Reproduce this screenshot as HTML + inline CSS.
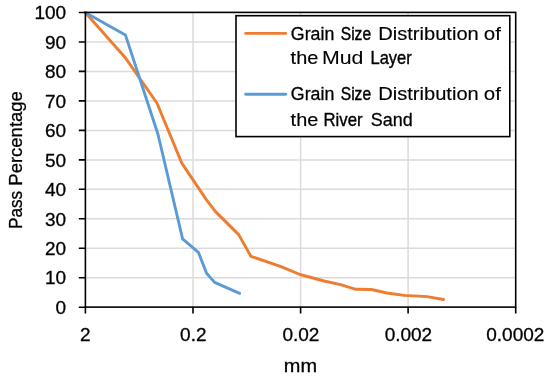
<!DOCTYPE html>
<html><head><meta charset="utf-8">
<style>
html,body{margin:0;padding:0;background:#fff;}
body{width:550px;height:382px;overflow:hidden;}
svg{display:block;}
text{font-family:"Liberation Sans",sans-serif;fill:#000;stroke:#000;stroke-width:0.3px;}
</style></head><body>
<svg width="550" height="382" viewBox="0 0 550 382">
<rect width="550" height="382" fill="#fff"/>
<!-- gridlines -->
<g stroke="#dbdbdb" stroke-width="1.5" fill="none">
<path d="M85.3 42H515.4M85.3 71.4H515.4M85.3 100.9H515.4M85.3 130.4H515.4M85.3 159.9H515.4M85.3 189.3H515.4M85.3 218.8H515.4M85.3 248.3H515.4M85.3 277.7H515.4"/>
<path d="M193 12.5V307.2M300.6 12.5V307.2M408.1 12.5V307.2"/>
</g>
<!-- data -->
<g fill="none" stroke-width="2.9" stroke-linejoin="round" stroke-linecap="round">
<polyline stroke="#ed7d31" points="85.3,12.5 124.9,57.2 156.9,103 181.8,163.1 206.3,199.6 215.5,211.6 238.7,234.6 250.9,256.3 280.4,266.4 300,274.5 324,281 340.6,284.6 356,289.3 371.5,289.5 386.7,293 404.2,295.4 427.1,296.6 443.5,299.5"/>
<polyline stroke="#5b9bd5" points="85.3,12.5 125.4,34.9 157.9,134 182.6,238.9 198.4,252.3 206.6,273.2 214.6,282.4 239.6,293.3"/>
</g>
<!-- axes -->
<g stroke="#000" stroke-width="1.6" fill="none">
<rect x="85.4" y="12.4" width="430.3" height="294.7"/>
<path d="M78.8 12.5H85.3M78.8 42H85.3M78.8 71.4H85.3M78.8 100.9H85.3M78.8 130.4H85.3M78.8 159.9H85.3M78.8 189.3H85.3M78.8 218.8H85.3M78.8 248.3H85.3M78.8 277.7H85.3M78.8 307.2H85.3"/>
<path d="M85.4 307.1V313.6M193 307.1V313.6M300.6 307.1V313.6M408.1 307.1V313.6M515.7 307.1V313.6"/>
</g>
<!-- legend -->
<rect x="236" y="15.7" width="273.8" height="120.9" fill="#fff" stroke="#000" stroke-width="1.6"/>
<path d="M245.7 33.4H285.7" stroke="#ed7d31" stroke-width="2.9" stroke-linecap="round"/>
<path d="M245.7 94.3H285.7" stroke="#5b9bd5" stroke-width="2.9" stroke-linecap="round"/>
<g font-size="18.1">
<text y="39.5"><tspan x="290.83" textLength="43.48" lengthAdjust="spacingAndGlyphs" stroke-width="0.30">Grain</tspan> <tspan x="340.78" textLength="30.27" lengthAdjust="spacingAndGlyphs" stroke-width="0.45">Size</tspan> <tspan x="378.21" textLength="100.59" lengthAdjust="spacingAndGlyphs" stroke-width="0.15">Distribution</tspan> <tspan x="483.72" textLength="17.12" lengthAdjust="spacingAndGlyphs" stroke-width="0.12">of</tspan></text>
<text y="64.4"><tspan x="290.62" textLength="27.67" lengthAdjust="spacingAndGlyphs" stroke-width="0.16">the</tspan> <tspan x="321.91" textLength="41.45" lengthAdjust="spacingAndGlyphs" stroke-width="0.07">Mud</tspan> <tspan x="370.52" textLength="41.26" lengthAdjust="spacingAndGlyphs" stroke-width="0.39">Layer</tspan></text>
<text y="100.3"><tspan x="290.83" textLength="43.48" lengthAdjust="spacingAndGlyphs" stroke-width="0.30">Grain</tspan> <tspan x="340.78" textLength="30.27" lengthAdjust="spacingAndGlyphs" stroke-width="0.45">Size</tspan> <tspan x="378.21" textLength="100.59" lengthAdjust="spacingAndGlyphs" stroke-width="0.15">Distribution</tspan> <tspan x="483.72" textLength="17.12" lengthAdjust="spacingAndGlyphs" stroke-width="0.12">of</tspan></text>
<text y="125.8"><tspan x="290.62" textLength="27.67" lengthAdjust="spacingAndGlyphs" stroke-width="0.16">the</tspan> <tspan x="323.53" textLength="39.05" lengthAdjust="spacingAndGlyphs" stroke-width="0.37">River</tspan> <tspan x="370.86" textLength="41.91" lengthAdjust="spacingAndGlyphs" stroke-width="0.29">Sand</tspan></text>
</g>
<!-- y labels -->
<g font-size="19" text-anchor="end">
<text x="66.2" y="19.2">100</text>
<text x="66.2" y="48.7">90</text>
<text x="66.2" y="78.1">80</text>
<text x="66.2" y="107.6">70</text>
<text x="66.2" y="137.1">60</text>
<text x="66.2" y="166.6">50</text>
<text x="66.2" y="196.0">40</text>
<text x="66.2" y="225.5">30</text>
<text x="66.2" y="255.0">20</text>
<text x="66.2" y="284.4">10</text>
<text x="66.2" y="313.9">0</text>
</g>
<g font-size="19" text-anchor="middle">
<text x="85.3" y="340.8">2</text>
<text x="193.3" y="340.8">0.2</text>
<text x="300.9" y="340.8">0.02</text>
<text x="408.4" y="340.8">0.002</text>
<text x="515.3" y="340.8">0.0002</text>
<text x="300.4" y="372.2" textLength="33.2" lengthAdjust="spacingAndGlyphs">mm</text>
<text transform="translate(21.7 228) rotate(-90)" font-size="18.2" text-anchor="start"><tspan x="-1" textLength="38" lengthAdjust="spacingAndGlyphs">Pass</tspan> <tspan x="42.3" textLength="94.6" lengthAdjust="spacingAndGlyphs">Percentage</tspan></text>
</g>
</svg>
</body></html>
